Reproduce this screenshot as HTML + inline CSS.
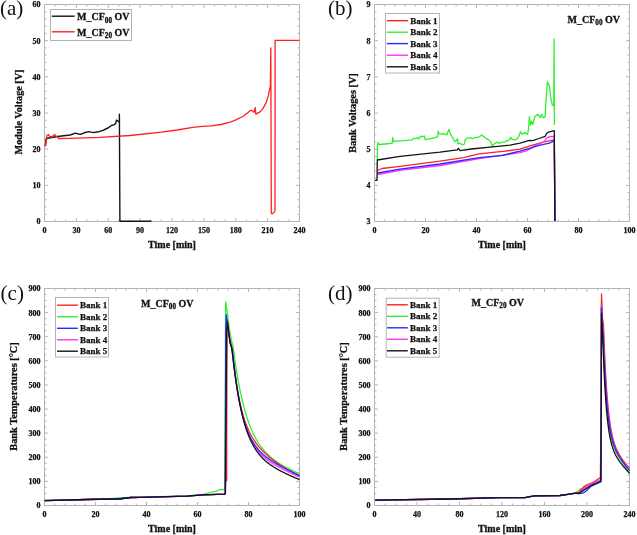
<!DOCTYPE html><html><head><meta charset="utf-8"><style>html,body{margin:0;padding:0;background:#fff;width:637px;height:535px;overflow:hidden}svg{display:block;will-change:transform}.tk{font-family:"Liberation Serif",serif;font-weight:bold;font-size:8px;fill:#111;stroke:#111;stroke-width:0.25px}.ti{font-family:"Liberation Serif",serif;font-weight:bold;font-size:10px;fill:#111;stroke:#111;stroke-width:0.3px}.lg{font-family:"Liberation Serif",serif;font-weight:bold;font-size:9px;fill:#111;stroke:#111;stroke-width:0.25px}.pl{font-family:"Liberation Serif",serif;font-size:21px;fill:#111}</style></head><body>
<svg width="637" height="535" viewBox="0 0 637 535">
<rect x="44.5" y="4.5" width="255.0" height="217.0" fill="none" stroke="#b4b4b4" stroke-width="1"/>
<path d="M44.50 221.5v-3.5M44.50 4.5v3.5M55.12 221.5v-2M55.12 4.5v2M65.75 221.5v-2M65.75 4.5v2M76.38 221.5v-3.5M76.38 4.5v3.5M87.00 221.5v-2M87.00 4.5v2M97.62 221.5v-2M97.62 4.5v2M108.25 221.5v-3.5M108.25 4.5v3.5M118.88 221.5v-2M118.88 4.5v2M129.50 221.5v-2M129.50 4.5v2M140.12 221.5v-3.5M140.12 4.5v3.5M150.75 221.5v-2M150.75 4.5v2M161.38 221.5v-2M161.38 4.5v2M172.00 221.5v-3.5M172.00 4.5v3.5M182.62 221.5v-2M182.62 4.5v2M193.25 221.5v-2M193.25 4.5v2M203.88 221.5v-3.5M203.88 4.5v3.5M214.50 221.5v-2M214.50 4.5v2M225.12 221.5v-2M225.12 4.5v2M235.75 221.5v-3.5M235.75 4.5v3.5M246.38 221.5v-2M246.38 4.5v2M257.00 221.5v-2M257.00 4.5v2M267.62 221.5v-3.5M267.62 4.5v3.5M278.25 221.5v-2M278.25 4.5v2M288.88 221.5v-2M288.88 4.5v2M299.50 221.5v-3.5M299.50 4.5v3.5M44.5 221.50h3.5M299.5 221.50h-3.5M44.5 214.27h2M299.5 214.27h-2M44.5 207.03h2M299.5 207.03h-2M44.5 199.80h2M299.5 199.80h-2M44.5 192.57h2M299.5 192.57h-2M44.5 185.33h3.5M299.5 185.33h-3.5M44.5 178.10h2M299.5 178.10h-2M44.5 170.87h2M299.5 170.87h-2M44.5 163.63h2M299.5 163.63h-2M44.5 156.40h2M299.5 156.40h-2M44.5 149.17h3.5M299.5 149.17h-3.5M44.5 141.93h2M299.5 141.93h-2M44.5 134.70h2M299.5 134.70h-2M44.5 127.47h2M299.5 127.47h-2M44.5 120.23h2M299.5 120.23h-2M44.5 113.00h3.5M299.5 113.00h-3.5M44.5 105.77h2M299.5 105.77h-2M44.5 98.53h2M299.5 98.53h-2M44.5 91.30h2M299.5 91.30h-2M44.5 84.07h2M299.5 84.07h-2M44.5 76.83h3.5M299.5 76.83h-3.5M44.5 69.60h2M299.5 69.60h-2M44.5 62.37h2M299.5 62.37h-2M44.5 55.13h2M299.5 55.13h-2M44.5 47.90h2M299.5 47.90h-2M44.5 40.67h3.5M299.5 40.67h-3.5M44.5 33.43h2M299.5 33.43h-2M44.5 26.20h2M299.5 26.20h-2M44.5 18.97h2M299.5 18.97h-2M44.5 11.73h2M299.5 11.73h-2M44.5 4.50h3.5M299.5 4.50h-3.5" stroke="#b4b4b4" stroke-width="1" fill="none"/>
<text x="44.50" y="232.70" text-anchor="middle" class="tk">0</text>
<text x="76.38" y="232.70" text-anchor="middle" class="tk">30</text>
<text x="108.25" y="232.70" text-anchor="middle" class="tk">60</text>
<text x="140.12" y="232.70" text-anchor="middle" class="tk">90</text>
<text x="172.00" y="232.70" text-anchor="middle" class="tk">120</text>
<text x="203.88" y="232.70" text-anchor="middle" class="tk">150</text>
<text x="235.75" y="232.70" text-anchor="middle" class="tk">180</text>
<text x="267.62" y="232.70" text-anchor="middle" class="tk">210</text>
<text x="299.50" y="232.70" text-anchor="middle" class="tk">240</text>
<text x="40.50" y="224.40" text-anchor="end" class="tk">0</text>
<text x="40.50" y="188.23" text-anchor="end" class="tk">10</text>
<text x="40.50" y="152.07" text-anchor="end" class="tk">20</text>
<text x="40.50" y="115.90" text-anchor="end" class="tk">30</text>
<text x="40.50" y="79.73" text-anchor="end" class="tk">40</text>
<text x="40.50" y="43.57" text-anchor="end" class="tk">50</text>
<text x="40.50" y="7.40" text-anchor="end" class="tk">60</text>
<rect x="374.5" y="4.5" width="255.0" height="217.0" fill="none" stroke="#b4b4b4" stroke-width="1"/>
<path d="M374.50 221.5v-3.5M374.50 4.5v3.5M384.70 221.5v-2M384.70 4.5v2M394.90 221.5v-2M394.90 4.5v2M405.10 221.5v-2M405.10 4.5v2M415.30 221.5v-2M415.30 4.5v2M425.50 221.5v-3.5M425.50 4.5v3.5M435.70 221.5v-2M435.70 4.5v2M445.90 221.5v-2M445.90 4.5v2M456.10 221.5v-2M456.10 4.5v2M466.30 221.5v-2M466.30 4.5v2M476.50 221.5v-3.5M476.50 4.5v3.5M486.70 221.5v-2M486.70 4.5v2M496.90 221.5v-2M496.90 4.5v2M507.10 221.5v-2M507.10 4.5v2M517.30 221.5v-2M517.30 4.5v2M527.50 221.5v-3.5M527.50 4.5v3.5M537.70 221.5v-2M537.70 4.5v2M547.90 221.5v-2M547.90 4.5v2M558.10 221.5v-2M558.10 4.5v2M568.30 221.5v-2M568.30 4.5v2M578.50 221.5v-3.5M578.50 4.5v3.5M588.70 221.5v-2M588.70 4.5v2M598.90 221.5v-2M598.90 4.5v2M609.10 221.5v-2M609.10 4.5v2M619.30 221.5v-2M619.30 4.5v2M629.50 221.5v-3.5M629.50 4.5v3.5M374.5 221.50h3.5M629.5 221.50h-3.5M374.5 214.27h2M629.5 214.27h-2M374.5 207.03h2M629.5 207.03h-2M374.5 199.80h2M629.5 199.80h-2M374.5 192.57h2M629.5 192.57h-2M374.5 185.33h3.5M629.5 185.33h-3.5M374.5 178.10h2M629.5 178.10h-2M374.5 170.87h2M629.5 170.87h-2M374.5 163.63h2M629.5 163.63h-2M374.5 156.40h2M629.5 156.40h-2M374.5 149.17h3.5M629.5 149.17h-3.5M374.5 141.93h2M629.5 141.93h-2M374.5 134.70h2M629.5 134.70h-2M374.5 127.47h2M629.5 127.47h-2M374.5 120.23h2M629.5 120.23h-2M374.5 113.00h3.5M629.5 113.00h-3.5M374.5 105.77h2M629.5 105.77h-2M374.5 98.53h2M629.5 98.53h-2M374.5 91.30h2M629.5 91.30h-2M374.5 84.07h2M629.5 84.07h-2M374.5 76.83h3.5M629.5 76.83h-3.5M374.5 69.60h2M629.5 69.60h-2M374.5 62.37h2M629.5 62.37h-2M374.5 55.13h2M629.5 55.13h-2M374.5 47.90h2M629.5 47.90h-2M374.5 40.67h3.5M629.5 40.67h-3.5M374.5 33.43h2M629.5 33.43h-2M374.5 26.20h2M629.5 26.20h-2M374.5 18.97h2M629.5 18.97h-2M374.5 11.73h2M629.5 11.73h-2M374.5 4.50h3.5M629.5 4.50h-3.5" stroke="#b4b4b4" stroke-width="1" fill="none"/>
<text x="374.50" y="232.70" text-anchor="middle" class="tk">0</text>
<text x="425.50" y="232.70" text-anchor="middle" class="tk">20</text>
<text x="476.50" y="232.70" text-anchor="middle" class="tk">40</text>
<text x="527.50" y="232.70" text-anchor="middle" class="tk">60</text>
<text x="578.50" y="232.70" text-anchor="middle" class="tk">80</text>
<text x="629.50" y="232.70" text-anchor="middle" class="tk">100</text>
<text x="370.50" y="224.40" text-anchor="end" class="tk">3</text>
<text x="370.50" y="188.23" text-anchor="end" class="tk">4</text>
<text x="370.50" y="152.07" text-anchor="end" class="tk">5</text>
<text x="370.50" y="115.90" text-anchor="end" class="tk">6</text>
<text x="370.50" y="79.73" text-anchor="end" class="tk">7</text>
<text x="370.50" y="43.57" text-anchor="end" class="tk">8</text>
<text x="370.50" y="7.40" text-anchor="end" class="tk">9</text>
<rect x="44.5" y="288.5" width="255.0" height="217.0" fill="none" stroke="#b4b4b4" stroke-width="1"/>
<path d="M44.50 505.5v-3.5M44.50 288.5v3.5M54.70 505.5v-2M54.70 288.5v2M64.90 505.5v-2M64.90 288.5v2M75.10 505.5v-2M75.10 288.5v2M85.30 505.5v-2M85.30 288.5v2M95.50 505.5v-3.5M95.50 288.5v3.5M105.70 505.5v-2M105.70 288.5v2M115.90 505.5v-2M115.90 288.5v2M126.10 505.5v-2M126.10 288.5v2M136.30 505.5v-2M136.30 288.5v2M146.50 505.5v-3.5M146.50 288.5v3.5M156.70 505.5v-2M156.70 288.5v2M166.90 505.5v-2M166.90 288.5v2M177.10 505.5v-2M177.10 288.5v2M187.30 505.5v-2M187.30 288.5v2M197.50 505.5v-3.5M197.50 288.5v3.5M207.70 505.5v-2M207.70 288.5v2M217.90 505.5v-2M217.90 288.5v2M228.10 505.5v-2M228.10 288.5v2M238.30 505.5v-2M238.30 288.5v2M248.50 505.5v-3.5M248.50 288.5v3.5M258.70 505.5v-2M258.70 288.5v2M268.90 505.5v-2M268.90 288.5v2M279.10 505.5v-2M279.10 288.5v2M289.30 505.5v-2M289.30 288.5v2M299.50 505.5v-3.5M299.50 288.5v3.5M44.5 505.50h3.5M299.5 505.50h-3.5M44.5 499.47h2M299.5 499.47h-2M44.5 493.44h2M299.5 493.44h-2M44.5 487.42h2M299.5 487.42h-2M44.5 481.39h3.5M299.5 481.39h-3.5M44.5 475.36h2M299.5 475.36h-2M44.5 469.33h2M299.5 469.33h-2M44.5 463.31h2M299.5 463.31h-2M44.5 457.28h3.5M299.5 457.28h-3.5M44.5 451.25h2M299.5 451.25h-2M44.5 445.22h2M299.5 445.22h-2M44.5 439.19h2M299.5 439.19h-2M44.5 433.17h3.5M299.5 433.17h-3.5M44.5 427.14h2M299.5 427.14h-2M44.5 421.11h2M299.5 421.11h-2M44.5 415.08h2M299.5 415.08h-2M44.5 409.06h3.5M299.5 409.06h-3.5M44.5 403.03h2M299.5 403.03h-2M44.5 397.00h2M299.5 397.00h-2M44.5 390.97h2M299.5 390.97h-2M44.5 384.94h3.5M299.5 384.94h-3.5M44.5 378.92h2M299.5 378.92h-2M44.5 372.89h2M299.5 372.89h-2M44.5 366.86h2M299.5 366.86h-2M44.5 360.83h3.5M299.5 360.83h-3.5M44.5 354.81h2M299.5 354.81h-2M44.5 348.78h2M299.5 348.78h-2M44.5 342.75h2M299.5 342.75h-2M44.5 336.72h3.5M299.5 336.72h-3.5M44.5 330.69h2M299.5 330.69h-2M44.5 324.67h2M299.5 324.67h-2M44.5 318.64h2M299.5 318.64h-2M44.5 312.61h3.5M299.5 312.61h-3.5M44.5 306.58h2M299.5 306.58h-2M44.5 300.56h2M299.5 300.56h-2M44.5 294.53h2M299.5 294.53h-2M44.5 288.50h3.5M299.5 288.50h-3.5" stroke="#b4b4b4" stroke-width="1" fill="none"/>
<text x="44.50" y="516.70" text-anchor="middle" class="tk">0</text>
<text x="95.50" y="516.70" text-anchor="middle" class="tk">20</text>
<text x="146.50" y="516.70" text-anchor="middle" class="tk">40</text>
<text x="197.50" y="516.70" text-anchor="middle" class="tk">60</text>
<text x="248.50" y="516.70" text-anchor="middle" class="tk">80</text>
<text x="299.50" y="516.70" text-anchor="middle" class="tk">100</text>
<text x="40.50" y="508.40" text-anchor="end" class="tk">0</text>
<text x="40.50" y="484.29" text-anchor="end" class="tk">100</text>
<text x="40.50" y="460.18" text-anchor="end" class="tk">200</text>
<text x="40.50" y="436.07" text-anchor="end" class="tk">300</text>
<text x="40.50" y="411.96" text-anchor="end" class="tk">400</text>
<text x="40.50" y="387.84" text-anchor="end" class="tk">500</text>
<text x="40.50" y="363.73" text-anchor="end" class="tk">600</text>
<text x="40.50" y="339.62" text-anchor="end" class="tk">700</text>
<text x="40.50" y="315.51" text-anchor="end" class="tk">800</text>
<text x="40.50" y="291.40" text-anchor="end" class="tk">900</text>
<rect x="374.5" y="288.5" width="255.0" height="217.0" fill="none" stroke="#b4b4b4" stroke-width="1"/>
<path d="M374.50 505.5v-3.5M374.50 288.5v3.5M385.12 505.5v-2M385.12 288.5v2M395.75 505.5v-2M395.75 288.5v2M406.38 505.5v-2M406.38 288.5v2M417.00 505.5v-3.5M417.00 288.5v3.5M427.62 505.5v-2M427.62 288.5v2M438.25 505.5v-2M438.25 288.5v2M448.88 505.5v-2M448.88 288.5v2M459.50 505.5v-3.5M459.50 288.5v3.5M470.12 505.5v-2M470.12 288.5v2M480.75 505.5v-2M480.75 288.5v2M491.38 505.5v-2M491.38 288.5v2M502.00 505.5v-3.5M502.00 288.5v3.5M512.62 505.5v-2M512.62 288.5v2M523.25 505.5v-2M523.25 288.5v2M533.88 505.5v-2M533.88 288.5v2M544.50 505.5v-3.5M544.50 288.5v3.5M555.12 505.5v-2M555.12 288.5v2M565.75 505.5v-2M565.75 288.5v2M576.38 505.5v-2M576.38 288.5v2M587.00 505.5v-3.5M587.00 288.5v3.5M597.62 505.5v-2M597.62 288.5v2M608.25 505.5v-2M608.25 288.5v2M618.88 505.5v-2M618.88 288.5v2M629.50 505.5v-3.5M629.50 288.5v3.5M374.5 505.50h3.5M629.5 505.50h-3.5M374.5 499.47h2M629.5 499.47h-2M374.5 493.44h2M629.5 493.44h-2M374.5 487.42h2M629.5 487.42h-2M374.5 481.39h3.5M629.5 481.39h-3.5M374.5 475.36h2M629.5 475.36h-2M374.5 469.33h2M629.5 469.33h-2M374.5 463.31h2M629.5 463.31h-2M374.5 457.28h3.5M629.5 457.28h-3.5M374.5 451.25h2M629.5 451.25h-2M374.5 445.22h2M629.5 445.22h-2M374.5 439.19h2M629.5 439.19h-2M374.5 433.17h3.5M629.5 433.17h-3.5M374.5 427.14h2M629.5 427.14h-2M374.5 421.11h2M629.5 421.11h-2M374.5 415.08h2M629.5 415.08h-2M374.5 409.06h3.5M629.5 409.06h-3.5M374.5 403.03h2M629.5 403.03h-2M374.5 397.00h2M629.5 397.00h-2M374.5 390.97h2M629.5 390.97h-2M374.5 384.94h3.5M629.5 384.94h-3.5M374.5 378.92h2M629.5 378.92h-2M374.5 372.89h2M629.5 372.89h-2M374.5 366.86h2M629.5 366.86h-2M374.5 360.83h3.5M629.5 360.83h-3.5M374.5 354.81h2M629.5 354.81h-2M374.5 348.78h2M629.5 348.78h-2M374.5 342.75h2M629.5 342.75h-2M374.5 336.72h3.5M629.5 336.72h-3.5M374.5 330.69h2M629.5 330.69h-2M374.5 324.67h2M629.5 324.67h-2M374.5 318.64h2M629.5 318.64h-2M374.5 312.61h3.5M629.5 312.61h-3.5M374.5 306.58h2M629.5 306.58h-2M374.5 300.56h2M629.5 300.56h-2M374.5 294.53h2M629.5 294.53h-2M374.5 288.50h3.5M629.5 288.50h-3.5" stroke="#b4b4b4" stroke-width="1" fill="none"/>
<text x="374.50" y="516.70" text-anchor="middle" class="tk">0</text>
<text x="417.00" y="516.70" text-anchor="middle" class="tk">40</text>
<text x="459.50" y="516.70" text-anchor="middle" class="tk">80</text>
<text x="502.00" y="516.70" text-anchor="middle" class="tk">120</text>
<text x="544.50" y="516.70" text-anchor="middle" class="tk">160</text>
<text x="587.00" y="516.70" text-anchor="middle" class="tk">200</text>
<text x="629.50" y="516.70" text-anchor="middle" class="tk">240</text>
<text x="370.50" y="508.40" text-anchor="end" class="tk">0</text>
<text x="370.50" y="484.29" text-anchor="end" class="tk">100</text>
<text x="370.50" y="460.18" text-anchor="end" class="tk">200</text>
<text x="370.50" y="436.07" text-anchor="end" class="tk">300</text>
<text x="370.50" y="411.96" text-anchor="end" class="tk">400</text>
<text x="370.50" y="387.84" text-anchor="end" class="tk">500</text>
<text x="370.50" y="363.73" text-anchor="end" class="tk">600</text>
<text x="370.50" y="339.62" text-anchor="end" class="tk">700</text>
<text x="370.50" y="315.51" text-anchor="end" class="tk">800</text>
<text x="370.50" y="291.40" text-anchor="end" class="tk">900</text>
<text x="0" y="15.4" class="pl">(a)</text>
<text x="328" y="15.4" class="pl">(b)</text>
<text x="0.6" y="300.1" class="pl">(c)</text>
<text x="328" y="300.1" class="pl">(d)</text>
<text x="172.0" y="248.2" text-anchor="middle" class="ti">Time [min]</text>
<text x="502.0" y="248.2" text-anchor="middle" class="ti">Time [min]</text>
<text x="172.0" y="532" text-anchor="middle" class="ti">Time [min]</text>
<text x="502.0" y="532" text-anchor="middle" class="ti">Time [min]</text>
<text transform="translate(22.1,112) rotate(-90)" x="0" y="0" text-anchor="middle" class="ti" font-size="10.2" style="font-size:10.2px">Module Voltage [V]</text>
<text transform="translate(355.9,113) rotate(-90)" x="0" y="0" text-anchor="middle" class="ti" font-size="10.3" style="font-size:10.3px">Bank Voltages [V]</text>
<text transform="translate(17.2,396.5) rotate(-90)" x="0" y="0" text-anchor="middle" class="ti" font-size="10.35" style="font-size:10.35px">Bank Temperatures [°C]</text>
<text transform="translate(347.2,396.5) rotate(-90)" x="0" y="0" text-anchor="middle" class="ti" font-size="10.35" style="font-size:10.35px">Bank Temperatures [°C]</text>
<rect x="50.5" y="9.5" width="81" height="31" fill="#fff" stroke="#b4b4b4" stroke-width="1"/>
<polyline points="51.8,16.2 74.6,16.2" fill="none" stroke="#141414" stroke-width="1.4" stroke-linejoin="round" stroke-linecap="butt"/>
<polyline points="51.8,31.8 74.6,31.8" fill="none" stroke="#ff2020" stroke-width="1.4" stroke-linejoin="round" stroke-linecap="butt"/>
<text x="77" y="20.3" class="ti" text-anchor="start">M_CF<tspan font-size="7.2" dy="2.4">00</tspan><tspan dy="-2.4"> OV</tspan></text>
<text x="77" y="35.9" class="ti" text-anchor="start">M_CF<tspan font-size="7.2" dy="2.4">20</tspan><tspan dy="-2.4"> OV</tspan></text>
<polyline points="45.0,146.3 45.5,145.0 46.0,139.0 48.5,138.0 57.5,136.5 70.0,135.0 75.6,133.2 78.5,134.0 81.3,134.2 84.1,132.8 88.8,131.6 93.5,132.6 98.2,131.8 103.0,130.4 105.8,129.0 108.6,127.6 111.4,125.5 114.3,124.6 115.7,123.4 116.4,120.1 118.0,121.2 119.3,122.0 119.4,114.2 119.9,221.3 151.4,221.3" fill="none" stroke="#141414" stroke-width="1.4" stroke-linejoin="round" stroke-linecap="butt"/>
<polyline points="45.5,146.0 46.0,142.0 46.5,137.0 47.0,136.0 48.5,134.5 50.0,137.0 52.5,136.5 54.5,134.5 56.0,136.0 57.5,137.0 58.5,138.5 70.0,138.4 100.0,137.3 130.0,135.5 161.4,132.1 177.1,130.0 192.8,127.4 202.2,126.4 211.6,125.8 221.0,124.5 230.0,122.2 234.3,120.7 243.7,116.0 248.4,112.2 250.2,110.7 252.1,110.4 254.0,112.2 255.3,107.6 255.8,114.1 259.6,112.2 262.4,109.4 266.1,102.9 268.4,95.4 269.5,89.8 270.4,86.1 270.8,47.8 271.3,213.0 272.0,213.8 274.0,212.5 275.0,211.0 275.1,40.4 299.5,40.4" fill="none" stroke="#ff2020" stroke-width="1.3" stroke-linejoin="round" stroke-linecap="butt"/>
<rect x="385.5" y="13.5" width="54" height="59.5" fill="#fff" stroke="#b4b4b4" stroke-width="1"/>
<polyline points="386.8,20.7 408.1,20.7" fill="none" stroke="#ff2020" stroke-width="1.4" stroke-linejoin="round" stroke-linecap="butt"/>
<text x="410.3" y="23.8" class="lg">Bank 1</text>
<polyline points="386.8,32.2 408.1,32.2" fill="none" stroke="#30f030" stroke-width="1.4" stroke-linejoin="round" stroke-linecap="butt"/>
<text x="410.3" y="35.3" class="lg">Bank 2</text>
<polyline points="386.8,43.6 408.1,43.6" fill="none" stroke="#2828ff" stroke-width="1.4" stroke-linejoin="round" stroke-linecap="butt"/>
<text x="410.3" y="46.7" class="lg">Bank 3</text>
<polyline points="386.8,55.2 408.1,55.2" fill="none" stroke="#ff30ff" stroke-width="1.4" stroke-linejoin="round" stroke-linecap="butt"/>
<text x="410.3" y="58.3" class="lg">Bank 4</text>
<polyline points="386.8,66.8 408.1,66.8" fill="none" stroke="#141414" stroke-width="1.4" stroke-linejoin="round" stroke-linecap="butt"/>
<text x="410.3" y="69.9" class="lg">Bank 5</text>
<rect x="55.5" y="297.5" width="53" height="59.5" fill="#fff" stroke="#b4b4b4" stroke-width="1"/>
<polyline points="57.0,305.2 77.9,305.2" fill="none" stroke="#ff2020" stroke-width="1.4" stroke-linejoin="round" stroke-linecap="butt"/>
<text x="80.0" y="308.3" class="lg">Bank 1</text>
<polyline points="57.0,316.8 77.9,316.8" fill="none" stroke="#30f030" stroke-width="1.4" stroke-linejoin="round" stroke-linecap="butt"/>
<text x="80.0" y="319.9" class="lg">Bank 2</text>
<polyline points="57.0,328.3 77.9,328.3" fill="none" stroke="#2828ff" stroke-width="1.4" stroke-linejoin="round" stroke-linecap="butt"/>
<text x="80.0" y="331.4" class="lg">Bank 3</text>
<polyline points="57.0,339.8 77.9,339.8" fill="none" stroke="#ff30ff" stroke-width="1.4" stroke-linejoin="round" stroke-linecap="butt"/>
<text x="80.0" y="342.9" class="lg">Bank 4</text>
<polyline points="57.0,351.2 77.9,351.2" fill="none" stroke="#141414" stroke-width="1.4" stroke-linejoin="round" stroke-linecap="butt"/>
<text x="80.0" y="354.3" class="lg">Bank 5</text>
<rect x="386.2" y="298.2" width="53" height="59" fill="#fff" stroke="#b4b4b4" stroke-width="1"/>
<polyline points="387.0,304.8 407.8,304.8" fill="none" stroke="#ff2020" stroke-width="1.4" stroke-linejoin="round" stroke-linecap="butt"/>
<text x="410.0" y="307.9" class="lg">Bank 1</text>
<polyline points="387.0,316.3 407.8,316.3" fill="none" stroke="#30f030" stroke-width="1.4" stroke-linejoin="round" stroke-linecap="butt"/>
<text x="410.0" y="319.4" class="lg">Bank 2</text>
<polyline points="387.0,327.8 407.8,327.8" fill="none" stroke="#2828ff" stroke-width="1.4" stroke-linejoin="round" stroke-linecap="butt"/>
<text x="410.0" y="330.9" class="lg">Bank 3</text>
<polyline points="387.0,339.3 407.8,339.3" fill="none" stroke="#ff30ff" stroke-width="1.4" stroke-linejoin="round" stroke-linecap="butt"/>
<text x="410.0" y="342.4" class="lg">Bank 4</text>
<polyline points="387.0,350.8 407.8,350.8" fill="none" stroke="#141414" stroke-width="1.4" stroke-linejoin="round" stroke-linecap="butt"/>
<text x="410.0" y="353.9" class="lg">Bank 5</text>
<text x="567.5" y="22.5" class="ti" text-anchor="start">M_CF<tspan font-size="7.2" dy="2.4">00</tspan><tspan dy="-2.4"> OV</tspan></text>
<text x="141" y="307" class="ti" text-anchor="start">M_CF<tspan font-size="7.2" dy="2.4">00</tspan><tspan dy="-2.4"> OV</tspan></text>
<text x="471.5" y="306" class="ti" text-anchor="start">M_CF<tspan font-size="7.2" dy="2.4">20</tspan><tspan dy="-2.4"> OV</tspan></text>
<polyline points="377.3,160.0 377.5,145.7 378.0,142.5 379.0,144.5 385.0,144.0 390.0,143.5 392.3,143.0 392.8,137.5 393.5,141.5 395.0,141.2 403.6,140.7 412.3,139.9 413.6,138.0 415.7,138.8 417.5,137.5 418.7,139.0 420.9,136.0 422.6,136.7 424.4,136.0 425.2,139.7 429.5,138.8 433.9,138.0 436.5,137.1 437.7,136.7 438.2,131.2 439.0,133.6 440.8,134.1 443.4,133.6 446.8,134.9 448.9,129.3 449.7,131.9 451.0,135.0 452.8,138.0 454.5,141.4 456.2,140.6 457.5,138.8 458.0,143.6 459.7,143.2 462.3,144.6 464.0,144.6 465.3,139.7 466.6,138.4 470.0,137.7 472.6,138.7 475.2,137.5 478.7,137.1 481.7,135.0 484.7,137.5 489.0,140.1 490.8,141.9 492.1,146.2 494.2,144.0 496.9,142.1 498.7,143.3 501.7,142.3 504.7,141.8 509.2,139.9 510.7,137.3 511.8,139.2 514.4,139.9 517.4,138.8 518.9,136.2 520.4,131.7 522.3,134.3 524.9,132.4 527.5,134.3 528.6,128.7 529.4,116.7 530.5,125.0 531.6,121.2 532.8,124.3 535.0,116.5 537.8,114.2 540.1,117.6 541.8,114.2 542.9,117.6 545.1,117.0 545.7,105.3 547.4,81.7 548.5,84.0 549.6,87.3 550.7,97.4 552.4,105.3 553.8,105.8 554.1,38.9 554.4,125.0" fill="none" stroke="#30f030" stroke-width="1.3" stroke-linejoin="round" stroke-linecap="butt"/>
<polyline points="377.5,170.4 382.0,168.5 400.0,166.4 440.0,161.1 463.5,157.7 479.2,153.8 502.8,151.4 520.0,149.2 532.6,145.1 545.2,141.7 554.3,139.8 554.9,221.0" fill="none" stroke="#ff2020" stroke-width="1.3" stroke-linejoin="round" stroke-linecap="butt"/>
<polyline points="377.5,174.5 400.0,170.4 440.0,165.5 479.2,158.6 520.0,152.7 526.3,150.8 530.7,148.6 535.7,145.1 543.9,142.0 546.4,138.2 549.6,136.6 554.3,136.3 554.9,221.0" fill="none" stroke="#ff30ff" stroke-width="1.3" stroke-linejoin="round" stroke-linecap="butt"/>
<polyline points="377.5,173.0 400.0,169.2 440.0,164.0 479.2,157.7 502.8,155.3 520.0,151.1 529.4,148.3 538.9,145.4 549.6,143.2 554.3,140.4 554.9,221.0" fill="none" stroke="#2828ff" stroke-width="1.3" stroke-linejoin="round" stroke-linecap="butt"/>
<polyline points="375.0,180.4 377.0,180.4 377.3,160.0 400.0,156.3 440.0,152.2 457.3,149.8 458.3,148.3 460.0,150.6 471.4,149.0 495.0,146.7 510.0,145.1 520.0,143.2 529.4,140.4 532.6,140.6 538.9,138.5 545.2,136.3 546.4,133.8 548.3,132.2 551.4,131.3 554.3,130.7 554.9,221.0" fill="none" stroke="#141414" stroke-width="1.3" stroke-linejoin="round" stroke-linecap="butt"/>
<polyline points="44.7,500.4 87.1,499.3 110.6,498.6 118.5,497.9 131.0,497.3 140.0,497.2 187.1,495.8 202.8,494.4 215.4,491.4 220.0,489.5 224.6,489.9 225.2,400.0 225.6,302.0 227.0,310.0 229.5,330.0 231.5,341.0 233.0,345.9 233.6,350.5 234.2,355.0 234.8,359.3 235.4,363.4 236.0,367.4 236.6,371.2 237.2,374.8 237.8,378.3 238.4,381.7 239.0,384.9 239.6,388.0 240.2,391.0 240.8,393.8 241.4,396.6 242.0,399.2 242.6,401.7 243.2,404.2 243.8,406.5 244.4,408.7 245.0,410.9 245.6,413.0 246.2,415.0 246.8,416.9 247.4,418.7 248.0,420.5 248.6,422.2 249.2,423.9 249.8,425.5 250.4,427.0 251.0,428.5 251.6,429.9 252.2,431.2 252.8,432.6 253.4,433.8 254.0,435.1 254.6,436.2 255.2,437.4 255.8,438.5 256.4,439.6 257.0,440.6 257.6,441.6 258.2,442.5 258.8,443.5 259.4,444.4 260.0,445.2 260.6,446.1 261.2,446.9 261.8,447.7 262.4,448.5 263.0,449.2 263.6,449.9 264.2,450.6 264.8,451.3 265.4,452.0 266.0,452.6 266.6,453.2 267.2,453.8 267.8,454.4 268.4,455.0 269.0,455.6 269.6,456.1 270.2,456.6 270.8,457.2 271.4,457.7 272.0,458.2 272.6,458.6 273.2,459.1 273.8,459.6 274.4,460.0 275.0,460.5 275.6,460.9 276.2,461.3 276.8,461.7 277.4,462.1 278.0,462.5 278.6,462.9 279.2,463.3 279.8,463.7 280.4,464.1 281.0,464.4 281.6,464.8 282.2,465.1 282.8,465.5 283.4,465.8 284.0,466.2 284.6,466.5 285.2,466.8 285.8,467.1 286.4,467.5 287.0,467.8 287.6,468.1 288.2,468.4 288.8,468.7 289.4,469.0 290.0,469.3 290.6,469.6 291.2,469.9 291.8,470.2 292.4,470.4 293.0,470.7 293.6,471.0 294.2,471.3 294.8,471.6 295.4,471.8 296.0,472.1 296.6,472.4 297.2,472.6 297.8,472.9 298.4,473.2 299.0,473.4 299.5,473.6" fill="none" stroke="#30f030" stroke-width="1.3" stroke-linejoin="round" stroke-linecap="butt"/>
<polyline points="44.7,500.6 87.1,499.5 110.6,499.0 118.5,499.0 131.0,497.5 140.0,497.4 187.1,496.1 202.8,494.8 224.8,494.2 225.4,493.5 225.6,481.5 226.6,480.8 226.7,480.4 226.9,322.0 230.5,343.0 232.5,350.0 233.5,360.5 234.1,365.7 234.7,370.7 235.3,375.3 235.9,379.6 236.5,383.6 237.1,387.4 237.7,391.0 238.3,394.4 238.9,397.5 239.5,400.5 240.1,403.3 240.7,406.0 241.3,408.5 241.9,410.8 242.5,413.0 243.1,415.2 243.7,417.2 244.3,419.1 244.9,420.9 245.5,422.6 246.1,424.2 246.7,425.7 247.3,427.2 247.9,428.6 248.5,430.0 249.1,431.3 249.7,432.5 250.3,433.7 250.9,434.8 251.5,435.9 252.1,437.0 252.7,438.0 253.3,439.0 253.9,439.9 254.5,440.8 255.1,441.7 255.7,442.6 256.3,443.4 256.9,444.2 257.5,445.0 258.1,445.7 258.7,446.5 259.3,447.2 259.9,447.9 260.5,448.5 261.1,449.2 261.7,449.9 262.3,450.5 262.9,451.1 263.5,451.7 264.1,452.3 264.7,452.9 265.3,453.5 265.9,454.0 266.5,454.6 267.1,455.1 267.7,455.6 268.3,456.2 268.9,456.7 269.5,457.2 270.1,457.7 270.7,458.1 271.3,458.6 271.9,459.1 272.5,459.6 273.1,460.0 273.7,460.5 274.3,460.9 274.9,461.4 275.5,461.8 276.1,462.2 276.7,462.6 277.3,463.1 277.9,463.5 278.5,463.9 279.1,464.3 279.7,464.7 280.3,465.1 280.9,465.5 281.5,465.8 282.1,466.2 282.7,466.6 283.3,467.0 283.9,467.3 284.5,467.7 285.1,468.0 285.7,468.4 286.3,468.7 286.9,469.1 287.5,469.4 288.1,469.8 288.7,470.1 289.3,470.4 289.9,470.8 290.5,471.1 291.1,471.4 291.7,471.7 292.3,472.0 292.9,472.4 293.5,472.7 294.1,473.0 294.7,473.3 295.3,473.6 295.9,473.9 296.5,474.2 297.1,474.4 297.7,474.7 298.3,475.0 298.9,475.3 299.5,475.6" fill="none" stroke="#ff2020" stroke-width="1.3" stroke-linejoin="round" stroke-linecap="butt"/>
<polyline points="44.7,500.6 87.1,499.5 110.6,499.0 118.5,499.0 131.0,497.5 140.0,497.4 187.1,496.1 202.8,494.8 224.8,494.2 225.3,493.5 226.2,330.0 226.9,319.1 230.0,342.0 231.4,346.5 232.5,352.5 233.1,358.1 233.7,363.4 234.3,368.4 234.9,373.2 235.5,377.7 236.1,382.0 236.7,386.0 237.3,389.8 237.9,393.5 238.5,396.9 239.1,400.2 239.7,403.3 240.3,406.2 240.9,409.0 241.5,411.6 242.1,414.2 242.7,416.6 243.3,418.8 243.9,421.0 244.5,423.0 245.1,425.0 245.7,426.8 246.3,428.6 246.9,430.3 247.5,431.9 248.1,433.4 248.7,434.9 249.3,436.3 249.9,437.6 250.5,438.9 251.1,440.1 251.7,441.3 252.3,442.4 252.9,443.4 253.5,444.5 254.1,445.4 254.7,446.4 255.3,447.3 255.9,448.1 256.5,449.0 257.1,449.8 257.7,450.5 258.3,451.3 258.9,452.0 259.5,452.7 260.1,453.3 260.7,454.0 261.3,454.6 261.9,455.2 262.5,455.8 263.1,456.3 263.7,456.9 264.3,457.4 264.9,457.9 265.5,458.4 266.1,458.9 266.7,459.4 267.3,459.8 267.9,460.3 268.5,460.7 269.1,461.2 269.7,461.6 270.3,462.0 270.9,462.4 271.5,462.8 272.1,463.2 272.7,463.6 273.3,463.9 273.9,464.3 274.5,464.7 275.1,465.0 275.7,465.4 276.3,465.7 276.9,466.1 277.5,466.4 278.1,466.7 278.7,467.1 279.3,467.4 279.9,467.7 280.5,468.0 281.1,468.3 281.7,468.6 282.3,468.9 282.9,469.3 283.5,469.6 284.1,469.9 284.7,470.2 285.3,470.5 285.9,470.7 286.5,471.0 287.1,471.3 287.7,471.6 288.3,471.9 288.9,472.2 289.5,472.5 290.1,472.8 290.7,473.0 291.3,473.3 291.9,473.6 292.5,473.9 293.1,474.2 293.7,474.4 294.3,474.7 294.9,475.0 295.5,475.3 296.1,475.5 296.7,475.8 297.3,476.1 297.9,476.3 298.5,476.6 299.1,476.9 299.5,477.1" fill="none" stroke="#ff30ff" stroke-width="1.3" stroke-linejoin="round" stroke-linecap="butt"/>
<polyline points="44.7,500.6 87.1,499.5 110.6,499.0 118.5,499.0 131.0,497.5 140.0,497.4 187.1,496.1 202.8,494.8 224.8,494.2 225.2,493.5 225.8,330.0 226.2,314.6 229.8,340.0 231.4,346.5 232.5,351.0 233.1,356.8 233.7,362.2 234.3,367.3 234.9,372.2 235.5,376.8 236.1,381.1 236.7,385.2 237.3,389.0 237.9,392.7 238.5,396.1 239.1,399.4 239.7,402.5 240.3,405.4 240.9,408.2 241.5,410.8 242.1,413.3 242.7,415.7 243.3,417.9 243.9,420.1 244.5,422.1 245.1,424.0 245.7,425.8 246.3,427.5 246.9,429.2 247.5,430.7 248.1,432.2 248.7,433.6 249.3,435.0 249.9,436.3 250.5,437.5 251.1,438.7 251.7,439.8 252.3,440.9 252.9,441.9 253.5,442.9 254.1,443.8 254.7,444.7 255.3,445.6 255.9,446.4 256.5,447.2 257.1,448.0 257.7,448.7 258.3,449.5 258.9,450.1 259.5,450.8 260.1,451.5 260.7,452.1 261.3,452.7 261.9,453.3 262.5,453.8 263.1,454.4 263.7,454.9 264.3,455.4 264.9,455.9 265.5,456.4 266.1,456.9 266.7,457.4 267.3,457.8 267.9,458.3 268.5,458.7 269.1,459.1 269.7,459.6 270.3,460.0 270.9,460.4 271.5,460.8 272.1,461.2 272.7,461.5 273.3,461.9 273.9,462.3 274.5,462.7 275.1,463.0 275.7,463.4 276.3,463.7 276.9,464.1 277.5,464.4 278.1,464.8 278.7,465.1 279.3,465.4 279.9,465.8 280.5,466.1 281.1,466.4 281.7,466.7 282.3,467.1 282.9,467.4 283.5,467.7 284.1,468.0 284.7,468.3 285.3,468.6 285.9,468.9 286.5,469.3 287.1,469.6 287.7,469.9 288.3,470.2 288.9,470.5 289.5,470.8 290.1,471.1 290.7,471.4 291.3,471.7 291.9,472.0 292.5,472.3 293.1,472.6 293.7,472.9 294.3,473.1 294.9,473.4 295.5,473.7 296.1,474.0 296.7,474.3 297.3,474.6 297.9,474.9 298.5,475.2 299.1,475.5 299.5,475.7" fill="none" stroke="#2828ff" stroke-width="1.3" stroke-linejoin="round" stroke-linecap="butt"/>
<polyline points="44.7,500.6 87.1,499.5 110.6,499.0 118.5,499.0 131.0,497.5 140.0,497.4 187.1,496.1 202.8,494.8 224.8,494.2 225.4,493.5 226.8,330.0 227.5,321.9 230.0,343.0 231.4,346.7 232.5,354.3 233.1,359.6 233.7,364.6 234.3,369.5 234.9,374.0 235.5,378.4 236.1,382.5 236.7,386.5 237.3,390.2 237.9,393.8 238.5,397.2 239.1,400.4 239.7,403.5 240.3,406.4 240.9,409.2 241.5,411.9 242.1,414.4 242.7,416.9 243.3,419.2 243.9,421.4 244.5,423.5 245.1,425.5 245.7,427.4 246.3,429.3 246.9,431.0 247.5,432.7 248.1,434.3 248.7,435.8 249.3,437.3 249.9,438.7 250.5,440.0 251.1,441.3 251.7,442.5 252.3,443.7 252.9,444.8 253.5,445.9 254.1,447.0 254.7,448.0 255.3,448.9 255.9,449.9 256.5,450.8 257.1,451.6 257.7,452.4 258.3,453.2 258.9,454.0 259.5,454.7 260.1,455.4 260.7,456.1 261.3,456.8 261.9,457.5 262.5,458.1 263.1,458.7 263.7,459.3 264.3,459.8 264.9,460.4 265.5,460.9 266.1,461.4 266.7,461.9 267.3,462.4 267.9,462.9 268.5,463.4 269.1,463.8 269.7,464.3 270.3,464.7 270.9,465.1 271.5,465.5 272.1,465.9 272.7,466.3 273.3,466.7 273.9,467.1 274.5,467.5 275.1,467.9 275.7,468.2 276.3,468.6 276.9,468.9 277.5,469.3 278.1,469.6 278.7,469.9 279.3,470.3 279.9,470.6 280.5,470.9 281.1,471.2 281.7,471.5 282.3,471.8 282.9,472.1 283.5,472.4 284.1,472.7 284.7,473.0 285.3,473.3 285.9,473.6 286.5,473.9 287.1,474.2 287.7,474.5 288.3,474.7 288.9,475.0 289.5,475.3 290.1,475.6 290.7,475.8 291.3,476.1 291.9,476.4 292.5,476.6 293.1,476.9 293.7,477.2 294.3,477.4 294.9,477.7 295.5,477.9 296.1,478.2 296.7,478.5 297.3,478.7 297.9,479.0 298.5,479.2 299.1,479.5 299.5,479.7" fill="none" stroke="#141414" stroke-width="1.3" stroke-linejoin="round" stroke-linecap="butt"/>
<polyline points="375.2,500.1 450.0,499.0 500.0,497.7 525.0,497.7 530.0,496.6 535.0,495.8 560.0,495.5 567.8,494.3 575.7,493.0 578.0,491.2 580.4,488.8 582.8,488.8 587.5,486.5 591.4,485.0 595.3,483.5 601.0,481.7 601.3,400.0 601.4,302.0 602.3,330.0 603.0,334.5 603.4,346.2 603.8,356.7 604.2,366.1 604.6,374.5 605.0,382.1 605.4,388.9 605.8,395.0 606.2,400.5 606.6,405.4 607.0,409.9 607.4,414.0 607.8,417.6 608.2,420.9 608.6,424.0 609.0,426.7 609.4,429.2 609.8,431.5 610.2,433.6 610.6,435.5 611.0,437.3 611.4,439.0 611.8,440.5 612.2,441.9 612.6,443.2 613.0,444.4 613.4,445.6 613.8,446.7 614.2,447.7 614.6,448.7 615.0,449.6 615.4,450.5 615.8,451.4 616.2,452.2 616.6,453.0 617.0,453.7 617.4,454.5 617.8,455.2 618.2,455.9 618.6,456.6 619.0,457.2 619.4,457.9 619.8,458.5 620.2,459.2 620.6,459.8 621.0,460.4 621.4,461.0 621.8,461.6 622.2,462.2 622.6,462.8 623.0,463.4 623.4,463.9 623.8,464.5 624.2,465.1 624.6,465.7 625.0,466.2 625.4,466.8 625.8,467.4 626.2,467.9 626.6,468.5 627.0,469.0 627.4,469.6 627.8,470.1 628.2,470.7 628.6,471.2 629.0,471.8 629.4,472.3 629.5,472.5" fill="none" stroke="#30f030" stroke-width="1.3" stroke-linejoin="round" stroke-linecap="butt"/>
<polyline points="375.2,500.1 450.0,499.0 500.0,497.7 525.0,497.7 530.0,496.6 535.0,495.8 560.0,495.5 567.8,494.3 575.7,493.2 579.6,492.0 583.5,486.9 587.5,484.5 591.4,483.0 595.3,481.0 599.2,478.2 600.4,477.5 601.2,400.0 601.5,293.9 602.5,318.0 603.5,325.5 603.9,336.5 604.3,346.5 604.7,355.7 605.1,364.0 605.5,371.6 605.9,378.6 606.3,384.9 606.7,390.7 607.1,396.0 607.5,400.9 607.9,405.3 608.3,409.4 608.7,413.1 609.1,416.6 609.5,419.7 609.9,422.6 610.3,425.3 610.7,427.8 611.1,430.0 611.5,432.1 611.9,434.1 612.3,435.9 612.7,437.6 613.1,439.2 613.5,440.6 613.9,442.0 614.3,443.3 614.7,444.5 615.1,445.6 615.5,446.7 615.9,447.7 616.3,448.7 616.7,449.6 617.1,450.5 617.5,451.3 617.9,452.1 618.3,452.9 618.7,453.6 619.1,454.3 619.5,455.0 619.9,455.6 620.3,456.3 620.7,456.9 621.1,457.5 621.5,458.1 621.9,458.7 622.3,459.2 622.7,459.8 623.1,460.3 623.5,460.9 623.9,461.4 624.3,461.9 624.7,462.4 625.1,462.9 625.5,463.4 625.9,463.9 626.3,464.4 626.7,464.9 627.1,465.4 627.5,465.8 627.9,466.3 628.3,466.8 628.7,467.3 629.1,467.7 629.5,468.2" fill="none" stroke="#ff2020" stroke-width="1.3" stroke-linejoin="round" stroke-linecap="butt"/>
<polyline points="375.2,500.1 450.0,499.0 500.0,497.7 525.0,497.7 530.0,496.6 535.0,495.8 560.0,495.5 567.8,494.3 575.7,493.2 578.8,493.2 581.2,491.6 585.1,487.3 591.4,484.1 599.2,480.2 601.1,479.5 601.3,400.0 601.4,305.1 602.4,325.0 603.3,334.1 603.7,344.0 604.1,353.2 604.5,361.5 604.9,369.2 605.3,376.2 605.7,382.7 606.1,388.6 606.5,394.1 606.9,399.1 607.3,403.7 607.7,408.0 608.1,411.9 608.5,415.5 608.9,418.8 609.3,421.9 609.7,424.7 610.1,427.3 610.5,429.7 610.9,432.0 611.3,434.0 611.7,436.0 612.1,437.8 612.5,439.5 612.9,441.0 613.3,442.5 613.7,443.8 614.1,445.1 614.5,446.3 614.9,447.4 615.3,448.5 615.7,449.5 616.1,450.4 616.5,451.3 616.9,452.2 617.3,453.0 617.7,453.7 618.1,454.5 618.5,455.2 618.9,455.8 619.3,456.5 619.7,457.1 620.1,457.7 620.5,458.3 620.9,458.8 621.3,459.4 621.7,459.9 622.1,460.4 622.5,460.9 622.9,461.4 623.3,461.9 623.7,462.3 624.1,462.8 624.5,463.2 624.9,463.7 625.3,464.1 625.7,464.5 626.1,465.0 626.5,465.4 626.9,465.8 627.3,466.2 627.7,466.6 628.1,467.0 628.5,467.4 628.9,467.8 629.3,468.2 629.5,468.4" fill="none" stroke="#ff30ff" stroke-width="1.3" stroke-linejoin="round" stroke-linecap="butt"/>
<polyline points="375.2,500.1 450.0,499.0 500.0,497.7 525.0,497.7 530.0,496.6 535.0,495.8 560.0,495.5 567.8,494.3 575.7,493.2 579.0,493.5 583.5,492.8 585.9,491.2 588.3,488.8 591.4,486.1 595.3,484.5 600.8,481.8 601.3,400.0 601.4,308.0 602.3,330.0 603.0,331.5 603.4,342.4 603.8,352.3 604.2,361.2 604.6,369.4 605.0,376.7 605.4,383.5 605.8,389.6 606.2,395.1 606.6,400.2 607.0,404.8 607.4,409.0 607.8,412.9 608.2,416.4 608.6,419.7 609.0,422.6 609.4,425.4 609.8,427.9 610.2,430.2 610.6,432.3 611.0,434.3 611.4,436.1 611.8,437.8 612.2,439.4 612.6,440.9 613.0,442.3 613.4,443.6 613.8,444.8 614.2,445.9 614.6,447.0 615.0,448.0 615.4,449.0 615.8,449.9 616.2,450.8 616.6,451.6 617.0,452.4 617.4,453.2 617.8,454.0 618.2,454.7 618.6,455.4 619.0,456.1 619.4,456.7 619.8,457.4 620.2,458.0 620.6,458.6 621.0,459.2 621.4,459.8 621.8,460.4 622.2,461.0 622.6,461.5 623.0,462.1 623.4,462.6 623.8,463.2 624.2,463.7 624.6,464.3 625.0,464.8 625.4,465.3 625.8,465.8 626.2,466.4 626.6,466.9 627.0,467.4 627.4,467.9 627.8,468.4 628.2,468.9 628.6,469.4 629.0,469.9 629.4,470.4 629.5,470.6" fill="none" stroke="#2828ff" stroke-width="1.3" stroke-linejoin="round" stroke-linecap="butt"/>
<polyline points="375.2,500.1 450.0,499.0 500.0,497.7 525.0,497.7 530.0,496.6 535.0,495.8 560.0,495.5 567.8,494.3 575.7,493.2 578.8,493.5 583.5,490.4 587.5,487.7 591.4,485.3 600.8,481.0 601.3,400.0 601.5,313.1 602.3,330.0 603.0,343.6 603.4,354.6 603.8,364.4 604.2,373.3 604.6,381.3 605.0,388.5 605.4,395.0 605.8,400.8 606.2,406.1 606.6,410.9 607.0,415.2 607.4,419.2 607.8,422.7 608.2,426.0 608.6,428.9 609.0,431.6 609.4,434.0 609.8,436.3 610.2,438.3 610.6,440.2 611.0,441.9 611.4,443.5 611.8,445.0 612.2,446.4 612.6,447.6 613.0,448.8 613.4,449.9 613.8,451.0 614.2,451.9 614.6,452.9 615.0,453.7 615.4,454.6 615.8,455.3 616.2,456.1 616.6,456.8 617.0,457.5 617.4,458.2 617.8,458.8 618.2,459.4 618.6,460.0 619.0,460.6 619.4,461.2 619.8,461.7 620.2,462.3 620.6,462.8 621.0,463.3 621.4,463.8 621.8,464.3 622.2,464.8 622.6,465.3 623.0,465.8 623.4,466.3 623.8,466.8 624.2,467.3 624.6,467.7 625.0,468.2 625.4,468.7 625.8,469.1 626.2,469.6 626.6,470.1 627.0,470.5 627.4,471.0 627.8,471.4 628.2,471.9 628.6,472.3 629.0,472.8 629.4,473.2 629.5,473.4" fill="none" stroke="#141414" stroke-width="1.3" stroke-linejoin="round" stroke-linecap="butt"/>
</svg></body></html>
